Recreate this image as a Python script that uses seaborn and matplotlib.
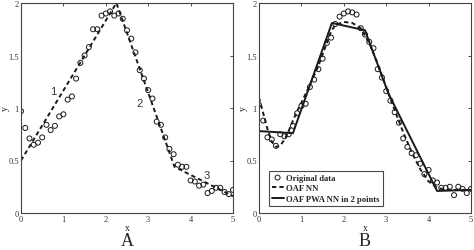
import numpy as np
import pandas as pd
import matplotlib
matplotlib.use("Agg")
import matplotlib.pyplot as plt
import seaborn as sns

# ---------------- data ----------------
x_grid = [round(0.1 * i, 1) for i in range(51)]

a_data_y = [0.97, 0.81, 0.71, 0.65, 0.67, 0.72, 0.84, 0.79, 0.83, 0.92,
            0.94, 1.08, 1.11, 1.28, 1.43, 1.50, 1.58, 1.75, 1.75, 1.88,
            1.90, 1.92, 1.88, 1.90, 1.85, 1.74, 1.66, 1.53, 1.36, 1.28,
            1.17, 1.09, 0.87, 0.84, 0.72, 0.61, 0.56, 0.46, 0.44, 0.44,
            0.31, 0.30, 0.26, 0.27, 0.19, 0.21, 0.24, 0.24, 0.20, 0.18,
            0.22]
a_fit_x = [0.0, 2.25, 3.62, 5.0]
a_fit_y = [0.50, 2.00, 0.44, 0.16]
a_labels = ["1", "2", "3"]
a_label_x = [0.76, 2.79, 4.38]
a_label_y = [1.16, 1.05, 0.36]

b_data_y = [1.03, 0.88, 0.72, 0.70, 0.64, 0.75, 0.73, 0.75, 0.83, 0.95,
            1.02, 1.04, 1.20, 1.27, 1.37, 1.47, 1.62, 1.67, 1.80, 1.87,
            1.90, 1.92, 1.91, 1.89, 1.76, 1.70, 1.63, 1.57, 1.37, 1.29,
            1.16, 1.07, 0.96, 0.86, 0.71, 0.63, 0.57, 0.55, 0.47, 0.37,
            0.41, 0.31, 0.29, 0.24, 0.24, 0.25, 0.17, 0.25, 0.23, 0.19,
            0.23]
b_nn_x = [0.0, 0.1, 0.2, 0.3, 0.4, 0.5, 0.6, 0.7, 0.8, 0.9, 1.0, 1.2, 1.4,
          1.6, 1.7, 1.8, 2.0, 2.2, 2.4, 2.6, 2.8, 3.0, 3.2, 3.4, 3.6, 3.8,
          4.0, 4.2, 4.4, 5.0]
b_nn_y = [1.10, 0.95, 0.80, 0.68, 0.63, 0.64, 0.70, 0.78, 0.88, 0.97, 1.05,
          1.22, 1.40, 1.62, 1.73, 1.79, 1.82, 1.81, 1.76, 1.62, 1.42, 1.20,
          0.98, 0.77, 0.58, 0.42, 0.30, 0.24, 0.22, 0.22]
b_pwa_x = [0.0, 0.8, 1.72, 2.5, 3.05, 4.2, 5.0]
b_pwa_y = [0.78, 0.76, 1.81, 1.74, 1.14, 0.21, 0.22]

legend_labels = ["Original data", "OAF NN", "OAF PWA NN in 2 points"]
x_ticks = [0, 1, 2, 3, 4, 5]
y_ticks = [0, 0.5, 1, 1.5, 2]
y_tick_labels = ["0", "0.5", "1", "1.5", "2"]
panel_names = ["A", "B"]

# ---------------- style ----------------
sns.set_style("white")
plt.rcParams["font.family"] = ["Liberation Serif", "DejaVu Serif"]
plt.rcParams["xtick.direction"] = "in"
plt.rcParams["ytick.direction"] = "in"

fig = plt.figure(figsize=(4.74, 2.51), dpi=100)
ax_a = fig.add_axes([21 / 474, 1 - 214 / 251, 212 / 474, 210 / 251])
ax_b = fig.add_axes([259 / 474, 1 - 214 / 251, 212 / 474, 210 / 251])

ink = "#1a1a1a"
df_a = pd.DataFrame({"x": x_grid, "y": a_data_y})
df_b = pd.DataFrame({"x": x_grid, "y": b_data_y})

marker_kw = dict(marker="o", s=13, facecolor="none", edgecolor=ink,
                 linewidth=0.7)

# Panel A
sns.scatterplot(data=df_a, x="x", y="y", ax=ax_a, **marker_kw)
sns.lineplot(x=a_fit_x, y=a_fit_y, ax=ax_a, color=ink, linewidth=1.4,
             linestyle=(0, (2.2, 1.6)), sort=False)
for t, tx, ty in zip(a_labels, a_label_x, a_label_y):
    ax_a.text(tx, ty, t, fontsize=8, color="#333333",
              family=["Liberation Sans", "DejaVu Sans"],
              ha="center", va="center")

# Panel B
sns.scatterplot(data=df_b, x="x", y="y", ax=ax_b, label=legend_labels[0],
                **marker_kw)
sns.lineplot(x=b_nn_x, y=b_nn_y, ax=ax_b, color=ink, linewidth=1.4,
             linestyle=(0, (2.2, 1.6)), sort=False, label=legend_labels[1])
sns.lineplot(x=b_pwa_x, y=b_pwa_y, ax=ax_b, color=ink, linewidth=1.4,
             sort=False, label=legend_labels[2])

leg = ax_b.legend(loc="lower left", bbox_to_anchor=(0.045, 0.033),
                  prop={"weight": "bold", "size": 6.2},
                  frameon=True, fancybox=False, edgecolor=ink,
                  borderpad=0.35, labelspacing=0.3, handlelength=1.4,
                  handletextpad=0.3, borderaxespad=0.0)
leg.get_frame().set_linewidth(0.8)

for ax, name in zip([ax_a, ax_b], panel_names):
    ax.set_xlim(0, 5)
    ax.set_ylim(0, 2)
    ax.set_xticks(x_ticks)
    ax.set_yticks(y_ticks)
    ax.set_yticklabels(y_tick_labels)
    ax.tick_params(axis="both", labelsize=6, colors="#333333", length=2.5,
                   width=0.6, pad=1.5, top=True, right=True)
    for sp in ax.spines.values():
        sp.set_visible(True)
        sp.set_linewidth(0.8)
        sp.set_color("#444444")
    ax.set_xlabel("x", fontsize=7, labelpad=0)
    ax.set_ylabel("y", fontsize=7, labelpad=-1)
    ax.text(0.5, -0.092, name, transform=ax.transAxes, fontsize=13,
            ha="center", va="top")

fig.savefig("out.png", dpi=100)
